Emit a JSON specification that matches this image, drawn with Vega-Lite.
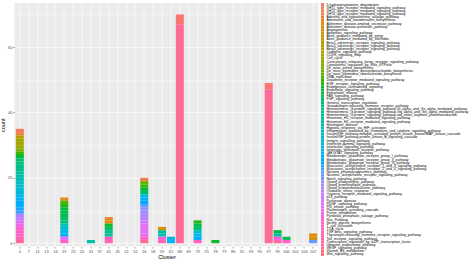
{
"$schema": "https://vega.github.io/schema/vega-lite/v6.json",
"padding": {"left": 0.5, "top": 2, "right": 0, "bottom": 0},
"background": "white",
"config": {"font": "Liberation Sans", "concat": {"spacing": 2.5}},
"resolve": {"scale": {"x": "independent", "y": "independent", "color": "independent"}},
"datasets": {
 "pathways": [
{"Pathway":"5-hydroxytryptamine_degredation"},{"Pathway":"5HT1_type_receptor_mediated_signaling_pathway"},{"Pathway":"5HT2_type_receptor_mediated_signaling_pathway"},{"Pathway":"5HT4_type_receptor_mediated_signaling_pathway"},{"Pathway":"Adenine_and_hypoxanthine_salvage_pathway"},{"Pathway":"Adrenaline_and_noradrenaline_biosynthesis"},{"Pathway":"Alzheimer_disease-amyloid_secretase_pathway"},{"Pathway":"Alzheimer_disease-presenilin_pathway"},{"Pathway":"Angiogenesis"},{"Pathway":"Apoptosis_signaling_pathway"},{"Pathway":"Axon_guidance_mediated_by_netrin"},{"Pathway":"Axon_guidance_mediated_by_Slit/Robo"},{"Pathway":"Beta1_adrenergic_receptor_signaling_pathway"},{"Pathway":"Beta2_adrenergic_receptor_signaling_pathway"},{"Pathway":"Beta3_adrenergic_receptor_signaling_pathway"},{"Pathway":"Cadherin_signaling_pathway"},{"Pathway":"CCKR_signaling_map"},{"Pathway":"Cell_cycle"},{"Pathway":"Corticotropin_releasing_factor_receptor_signaling_pathway"},{"Pathway":"Cytoskeletal_regulation_by_Rho_GTPase"},{"Pathway":"De_novo_purine_biosynthesis"},{"Pathway":"De_novo_pyrimidine_deoxyribonucleotide_biosynthesis"},{"Pathway":"De_novo_pyrimidine_ribonucleotide_biosythesis"},{"Pathway":"DNA_replication"},{"Pathway":"Dopamine_receptor_mediated_signaling_pathway"},{"Pathway":"EGF_receptor_signaling_pathway"},{"Pathway":"Endogenous_cannabinoid_signaling"},{"Pathway":"Endothelin_signaling_pathway"},{"Pathway":"Enkephalin_release"},{"Pathway":"FAS_signaling_pathway"},{"Pathway":"FGF_signaling_pathway"},{"Pathway":"General_transcription_regulation"},{"Pathway":"Gonadotropin-releasing_hormone_receptor_pathway"},{"Pathway":"Heterotrimeric_G-protein_signaling_pathway-Gi_alpha_and_Gs_alpha_mediated_pathway"},{"Pathway":"Heterotrimeric_G-protein_signaling_pathway-Gq_alpha_and_Go_alpha_mediated_pathway"},{"Pathway":"Heterotrimeric_G-protein_signaling_pathway-rod_outer_segment_phototransduction"},{"Pathway":"Histamine_H1_receptor_mediated_signaling_pathway"},{"Pathway":"Histamine_H2_receptor_mediated_signaling_pathway"},{"Pathway":"Huntington_disease"},{"Pathway":"Hypoxia_response_via_HIF_activation"},{"Pathway":"Inflammation_mediated_by_chemokine_and_cytokine_signaling_pathway"},{"Pathway":"Insulin/IGF_pathway-mitogen_activated_protein_kinase_kinase/MAP_kinase_cascade"},{"Pathway":"Insulin/IGF_pathway-protein_kinase_B_signaling_cascade"},{"Pathway":"Integrin_signalling_pathway"},{"Pathway":"Interferon-gamma_signaling_pathway"},{"Pathway":"Interleukin_signaling_pathway"},{"Pathway":"Ionotropic_glutamate_receptor_pathway"},{"Pathway":"JAK/STAT_signaling_pathway"},{"Pathway":"Metabotropic_glutamate_receptor_group_I_pathway"},{"Pathway":"Metabotropic_glutamate_receptor_group_II_pathway"},{"Pathway":"Metabotropic_glutamate_receptor_group_III_pathway"},{"Pathway":"Muscarinic_acetylcholine_receptor_1_and_3_signaling_pathway"},{"Pathway":"Muscarinic_acetylcholine_receptor_2_and_4_signaling_pathway"},{"Pathway":"Nicotine_pharmacodynamics_pathway"},{"Pathway":"Nicotinic_acetylcholine_receptor_signaling_pathway"},{"Pathway":"Notch_signaling_pathway"},{"Pathway":"Opioid_prodynorphin_pathway"},{"Pathway":"Opioid_proenkephalin_pathway"},{"Pathway":"Opioid_proopiomelanocortin_pathway"},{"Pathway":"Oxidative_stress_response"},{"Pathway":"Oxytocin_receptor_mediated_signaling_pathway"},{"Pathway":"p53_pathway"},{"Pathway":"Parkinson_disease"},{"Pathway":"PDGF_signaling_pathway"},{"Pathway":"PI3_kinase_pathway"},{"Pathway":"Plasminogen_activating_cascade"},{"Pathway":"Purine_metabolism"},{"Pathway":"Pyridoxal_phosphate_salvage_pathway"},{"Pathway":"Ras_Pathway"},{"Pathway":"Serine_glycine_biosynthesis"},{"Pathway":"T_cell_activation"},{"Pathway":"TCA_cycle"},{"Pathway":"TGF-beta_signaling_pathway"},{"Pathway":"Thyrotropin-releasing_hormone_receptor_signaling_pathway"},{"Pathway":"Toll_receptor_signaling_pathway"},{"Pathway":"Transcription_regulation_by_bZIP_transcription_factor"},{"Pathway":"Ubiquitin_proteasome_pathway"},{"Pathway":"VEGF_signaling_pathway"},{"Pathway":"Vitamin_B6_metabolism"},{"Pathway":"Wnt_signaling_pathway"}
 ],
 "counts": [
{"Cluster":"0","Pathway":"5HT1_type_receptor_mediated_signaling_pathway","count":1},
{"Cluster":"0","Pathway":"5HT4_type_receptor_mediated_signaling_pathway","count":1},
{"Cluster":"0","Pathway":"Beta2_adrenergic_receptor_signaling_pathway","count":1},
{"Cluster":"0","Pathway":"Cadherin_signaling_pathway","count":1},
{"Cluster":"0","Pathway":"CCKR_signaling_map","count":1},
{"Cluster":"0","Pathway":"Cell_cycle","count":1},
{"Cluster":"0","Pathway":"Cytoskeletal_regulation_by_Rho_GTPase","count":1},
{"Cluster":"0","Pathway":"Dopamine_receptor_mediated_signaling_pathway","count":1},
{"Cluster":"0","Pathway":"Endothelin_signaling_pathway","count":1},
{"Cluster":"0","Pathway":"General_transcription_regulation","count":1},
{"Cluster":"0","Pathway":"Gonadotropin-releasing_hormone_receptor_pathway","count":1},
{"Cluster":"0","Pathway":"Heterotrimeric_G-protein_signaling_pathway-Gi_alpha_and_Gs_alpha_mediated_pathway","count":1},
{"Cluster":"0","Pathway":"Heterotrimeric_G-protein_signaling_pathway-Gq_alpha_and_Go_alpha_mediated_pathway","count":1},
{"Cluster":"0","Pathway":"Heterotrimeric_G-protein_signaling_pathway-rod_outer_segment_phototransduction","count":1},
{"Cluster":"0","Pathway":"Histamine_H2_receptor_mediated_signaling_pathway","count":1},
{"Cluster":"0","Pathway":"Huntington_disease","count":1},
{"Cluster":"0","Pathway":"Inflammation_mediated_by_chemokine_and_cytokine_signaling_pathway","count":1},
{"Cluster":"0","Pathway":"Insulin/IGF_pathway-mitogen_activated_protein_kinase_kinase/MAP_kinase_cascade","count":1},
{"Cluster":"0","Pathway":"Integrin_signalling_pathway","count":1},
{"Cluster":"0","Pathway":"Interferon-gamma_signaling_pathway","count":1},
{"Cluster":"0","Pathway":"Ionotropic_glutamate_receptor_pathway","count":1},
{"Cluster":"0","Pathway":"JAK/STAT_signaling_pathway","count":1},
{"Cluster":"0","Pathway":"Metabotropic_glutamate_receptor_group_I_pathway","count":1},
{"Cluster":"0","Pathway":"Metabotropic_glutamate_receptor_group_II_pathway","count":1},
{"Cluster":"0","Pathway":"Muscarinic_acetylcholine_receptor_1_and_3_signaling_pathway","count":1},
{"Cluster":"0","Pathway":"Muscarinic_acetylcholine_receptor_2_and_4_signaling_pathway","count":1},
{"Cluster":"0","Pathway":"Opioid_proopiomelanocortin_pathway","count":1},
{"Cluster":"0","Pathway":"Oxytocin_receptor_mediated_signaling_pathway","count":1},
{"Cluster":"0","Pathway":"PDGF_signaling_pathway","count":1},
{"Cluster":"0","Pathway":"Purine_metabolism","count":1},
{"Cluster":"0","Pathway":"Ras_Pathway","count":1},
{"Cluster":"0","Pathway":"T_cell_activation","count":1},
{"Cluster":"0","Pathway":"TGF-beta_signaling_pathway","count":1},
{"Cluster":"0","Pathway":"Thyrotropin-releasing_hormone_receptor_signaling_pathway","count":1},
{"Cluster":"0","Pathway":"Transcription_regulation_by_bZIP_transcription_factor","count":1},
{"Cluster":"19","Pathway":"Adrenaline_and_noradrenaline_biosynthesis","count":1},
{"Cluster":"19","Pathway":"DNA_replication","count":1},
{"Cluster":"19","Pathway":"EGF_receptor_signaling_pathway","count":1},
{"Cluster":"19","Pathway":"Endothelin_signaling_pathway","count":1},
{"Cluster":"19","Pathway":"Enkephalin_release","count":1},
{"Cluster":"19","Pathway":"FAS_signaling_pathway","count":1},
{"Cluster":"19","Pathway":"FGF_signaling_pathway","count":1},
{"Cluster":"19","Pathway":"General_transcription_regulation","count":1},
{"Cluster":"19","Pathway":"Huntington_disease","count":1},
{"Cluster":"19","Pathway":"Insulin/IGF_pathway-protein_kinase_B_signaling_cascade","count":1},
{"Cluster":"19","Pathway":"Interleukin_signaling_pathway","count":1},
{"Cluster":"19","Pathway":"Metabotropic_glutamate_receptor_group_I_pathway","count":1},
{"Cluster":"19","Pathway":"PDGF_signaling_pathway","count":1},
{"Cluster":"19","Pathway":"T_cell_activation","count":1},
{"Cluster":"31","Pathway":"Histamine_H2_receptor_mediated_signaling_pathway","count":1},
{"Cluster":"41","Pathway":"Adenine_and_hypoxanthine_salvage_pathway","count":1},
{"Cluster":"41","Pathway":"Alzheimer_disease-amyloid_secretase_pathway","count":1},
{"Cluster":"41","Pathway":"Endogenous_cannabinoid_signaling","count":1},
{"Cluster":"41","Pathway":"FGF_signaling_pathway","count":1},
{"Cluster":"41","Pathway":"Heterotrimeric_G-protein_signaling_pathway-Gi_alpha_and_Gs_alpha_mediated_pathway","count":1},
{"Cluster":"41","Pathway":"Histamine_H1_receptor_mediated_signaling_pathway","count":1},
{"Cluster":"41","Pathway":"TGF-beta_signaling_pathway","count":1},
{"Cluster":"41","Pathway":"Toll_receptor_signaling_pathway","count":1},
{"Cluster":"56","Pathway":"5HT2_type_receptor_mediated_signaling_pathway","count":1},
{"Cluster":"56","Pathway":"De_novo_pyrimidine_deoxyribonucleotide_biosynthesis","count":1},
{"Cluster":"56","Pathway":"Dopamine_receptor_mediated_signaling_pathway","count":1},
{"Cluster":"56","Pathway":"Endothelin_signaling_pathway","count":1},
{"Cluster":"56","Pathway":"FAS_signaling_pathway","count":1},
{"Cluster":"56","Pathway":"Interferon-gamma_signaling_pathway","count":1},
{"Cluster":"56","Pathway":"JAK/STAT_signaling_pathway","count":1},
{"Cluster":"56","Pathway":"Metabotropic_glutamate_receptor_group_III_pathway","count":1},
{"Cluster":"56","Pathway":"Nicotine_pharmacodynamics_pathway","count":1},
{"Cluster":"56","Pathway":"Opioid_prodynorphin_pathway","count":1},
{"Cluster":"56","Pathway":"Opioid_proenkephalin_pathway","count":1},
{"Cluster":"56","Pathway":"Opioid_proopiomelanocortin_pathway","count":1},
{"Cluster":"56","Pathway":"Oxidative_stress_response","count":1},
{"Cluster":"56","Pathway":"Oxytocin_receptor_mediated_signaling_pathway","count":1},
{"Cluster":"56","Pathway":"Parkinson_disease","count":1},
{"Cluster":"56","Pathway":"PDGF_signaling_pathway","count":1},
{"Cluster":"56","Pathway":"PI3_kinase_pathway","count":1},
{"Cluster":"56","Pathway":"Plasminogen_activating_cascade","count":1},
{"Cluster":"56","Pathway":"TCA_cycle","count":1},
{"Cluster":"56","Pathway":"Ubiquitin_proteasome_pathway","count":1},
{"Cluster":"59","Pathway":"Alzheimer_disease-presenilin_pathway","count":1},
{"Cluster":"59","Pathway":"Heterotrimeric_G-protein_signaling_pathway-Gq_alpha_and_Go_alpha_mediated_pathway","count":1},
{"Cluster":"59","Pathway":"Hypoxia_response_via_HIF_activation","count":1},
{"Cluster":"59","Pathway":"Serine_glycine_biosynthesis","count":1},
{"Cluster":"59","Pathway":"Thyrotropin-releasing_hormone_receptor_signaling_pathway","count":1},
{"Cluster":"62","Pathway":"Interleukin_signaling_pathway","count":1},
{"Cluster":"62","Pathway":"JAK/STAT_signaling_pathway","count":1},
{"Cluster":"68","Pathway":"5-hydroxytryptamine_degredation","count":3},
{"Cluster":"68","Pathway":"Ubiquitin_proteasome_pathway","count":67},
{"Cluster":"73","Pathway":"EGF_receptor_signaling_pathway","count":1},
{"Cluster":"73","Pathway":"Enkephalin_release","count":1},
{"Cluster":"73","Pathway":"FGF_signaling_pathway","count":1},
{"Cluster":"73","Pathway":"Inflammation_mediated_by_chemokine_and_cytokine_signaling_pathway","count":1},
{"Cluster":"73","Pathway":"Ionotropic_glutamate_receptor_pathway","count":1},
{"Cluster":"73","Pathway":"Metabotropic_glutamate_receptor_group_II_pathway","count":1},
{"Cluster":"73","Pathway":"TCA_cycle","count":1},
{"Cluster":"78","Pathway":"Endogenous_cannabinoid_signaling","count":1},
{"Cluster":"97","Pathway":"5-hydroxytryptamine_degredation","count":2},
{"Cluster":"97","Pathway":"Ubiquitin_proteasome_pathway","count":47},
{"Cluster":"99","Pathway":"Endothelin_signaling_pathway","count":1},
{"Cluster":"99","Pathway":"Histamine_H1_receptor_mediated_signaling_pathway","count":1},
{"Cluster":"99","Pathway":"Ras_Pathway","count":1},
{"Cluster":"99","Pathway":"Toll_receptor_signaling_pathway","count":1},
{"Cluster":"100","Pathway":"FAS_signaling_pathway","count":1},
{"Cluster":"100","Pathway":"T_cell_activation","count":1},
{"Cluster":"107","Pathway":"Alzheimer_disease-amyloid_secretase_pathway","count":1},
{"Cluster":"107","Pathway":"Apoptosis_signaling_pathway","count":1},
{"Cluster":"107","Pathway":"Nicotinic_acetylcholine_receptor_signaling_pathway","count":1}
 ]
},
"hconcat": [
{
 "width": 304, "height": 243.5,
 "view": {"fill": "#EBEBEB", "stroke": null},
 "data": {"name": "counts"},
 "mark": {"type": "bar"},
 "encoding": {
  "x": {"field": "Cluster", "type": "nominal",
   "scale": {"domain": ["0","7","11","13","16","19","23","24","31","37","41","45","51","52","56","58","59","62","68","69","73","75","78","79","86","92","93","95","97","99","100","102","106","107"], "paddingInner": 0.1, "paddingOuter": 0.15},
   "axis": {"title": "Cluster", "titleFontSize": 5.5, "titleFontWeight": "normal", "titleColor": "black", "titlePadding": 1.5,
    "labelFontSize": 4, "labelColor": "#4D4D4D", "labelAngle": 0, "labelPadding": 1, "domain": false,
    "ticks": true, "tickSize": 1.5, "tickWidth": 0.5, "tickColor": "#333333", "bandPosition": 0.5,
    "grid": true, "gridColor": "white", "gridWidth": 0.6}},
  "y": {"field": "count", "type": "quantitative", "stack": "zero",
   "scale": {"domain": [-1, 73.5], "nice": false, "zero": false},
   "axis": {"title": "count", "titleFontSize": 5.5, "titleFontWeight": "normal", "titleColor": "black", "titlePadding": 2,
    "values": [0,10,20,30,40,50,60,70],
    "labelExpr": "datum.value % 20 === 0 ? datum.label : ''",
    "labelFontSize": 4, "labelColor": "#4D4D4D", "labelPadding": 1, "domain": false,
    "tickSize": 1.5, "tickWidth": 0.5, "tickColor": "#333333",
    "tickOpacity": {"condition": {"test": "datum.value % 20 === 0", "value": 1}, "value": 0},
    "grid": true, "gridColor": "white",
    "gridWidth": {"condition": {"test": "datum.value % 20 === 0", "value": 0.6}, "value": 0.3}}},
  "color": {"field": "Pathway", "type": "nominal", "legend": null,
   "scale": {
    "domain": ["5-hydroxytryptamine_degredation","5HT1_type_receptor_mediated_signaling_pathway","5HT2_type_receptor_mediated_signaling_pathway","5HT4_type_receptor_mediated_signaling_pathway","Adenine_and_hypoxanthine_salvage_pathway","Adrenaline_and_noradrenaline_biosynthesis","Alzheimer_disease-amyloid_secretase_pathway","Alzheimer_disease-presenilin_pathway","Angiogenesis","Apoptosis_signaling_pathway","Axon_guidance_mediated_by_netrin","Axon_guidance_mediated_by_Slit/Robo","Beta1_adrenergic_receptor_signaling_pathway","Beta2_adrenergic_receptor_signaling_pathway","Beta3_adrenergic_receptor_signaling_pathway","Cadherin_signaling_pathway","CCKR_signaling_map","Cell_cycle","Corticotropin_releasing_factor_receptor_signaling_pathway","Cytoskeletal_regulation_by_Rho_GTPase","De_novo_purine_biosynthesis","De_novo_pyrimidine_deoxyribonucleotide_biosynthesis","De_novo_pyrimidine_ribonucleotide_biosythesis","DNA_replication","Dopamine_receptor_mediated_signaling_pathway","EGF_receptor_signaling_pathway","Endogenous_cannabinoid_signaling","Endothelin_signaling_pathway","Enkephalin_release","FAS_signaling_pathway","FGF_signaling_pathway","General_transcription_regulation","Gonadotropin-releasing_hormone_receptor_pathway","Heterotrimeric_G-protein_signaling_pathway-Gi_alpha_and_Gs_alpha_mediated_pathway","Heterotrimeric_G-protein_signaling_pathway-Gq_alpha_and_Go_alpha_mediated_pathway","Heterotrimeric_G-protein_signaling_pathway-rod_outer_segment_phototransduction","Histamine_H1_receptor_mediated_signaling_pathway","Histamine_H2_receptor_mediated_signaling_pathway","Huntington_disease","Hypoxia_response_via_HIF_activation","Inflammation_mediated_by_chemokine_and_cytokine_signaling_pathway","Insulin/IGF_pathway-mitogen_activated_protein_kinase_kinase/MAP_kinase_cascade","Insulin/IGF_pathway-protein_kinase_B_signaling_cascade","Integrin_signalling_pathway","Interferon-gamma_signaling_pathway","Interleukin_signaling_pathway","Ionotropic_glutamate_receptor_pathway","JAK/STAT_signaling_pathway","Metabotropic_glutamate_receptor_group_I_pathway","Metabotropic_glutamate_receptor_group_II_pathway","Metabotropic_glutamate_receptor_group_III_pathway","Muscarinic_acetylcholine_receptor_1_and_3_signaling_pathway","Muscarinic_acetylcholine_receptor_2_and_4_signaling_pathway","Nicotine_pharmacodynamics_pathway","Nicotinic_acetylcholine_receptor_signaling_pathway","Notch_signaling_pathway","Opioid_prodynorphin_pathway","Opioid_proenkephalin_pathway","Opioid_proopiomelanocortin_pathway","Oxidative_stress_response","Oxytocin_receptor_mediated_signaling_pathway","p53_pathway","Parkinson_disease","PDGF_signaling_pathway","PI3_kinase_pathway","Plasminogen_activating_cascade","Purine_metabolism","Pyridoxal_phosphate_salvage_pathway","Ras_Pathway","Serine_glycine_biosynthesis","T_cell_activation","TCA_cycle","TGF-beta_signaling_pathway","Thyrotropin-releasing_hormone_receptor_signaling_pathway","Toll_receptor_signaling_pathway","Transcription_regulation_by_bZIP_transcription_factor","Ubiquitin_proteasome_pathway","VEGF_signaling_pathway","Vitamin_B6_metabolism","Wnt_signaling_pathway"],
    "range": ["#F8766D","#F5795F","#F17D51","#EE8043","#EA8332","#E6871F","#E18A0C","#DD8D00","#D89000","#D39300","#CD9600","#C69900","#C09B00","#B99E00","#B2A100","#ABA300","#A3A500","#99A700","#90AA00","#86AC00","#7CAE00","#6BB000","#5BB200","#4AB400","#39B600","#24B815","#0EB92A","#00BA3D","#00BC4B","#00BD59","#00BE67","#00BF72","#00BF7D","#00C088","#00C091","#00C099","#00C0A2","#00BFAA","#00BFB3","#00BFBB","#00BFC4","#00BDCB","#00BCD1","#00BAD8","#00B8DE","#00B7E5","#00B5EC","#00B3F2","#00B0F6","#00ADFB","#00A9FF","#1DA5FF","#3AA1FF","#579DFF","#6E99FF","#8295FF","#9590FF","#A28BFF","#AE86FF","#BB81FF","#C77CFF","#CF78FC","#D774F9","#DF6FF6","#E76BF3","#EC68ED","#F266E7","#F664E1","#F963DA","#FC62D3","#FF61CC","#FF62C4","#FF62BC","#FF64B3","#FF66AA","#FF68A1","#FF6A97","#FE6D8D","#FC7083","#FA7278"]}},
  "order": {"field": "Pathway", "sort": "descending"}
 }
},
{
 "width": 3, "height": 253,
 "view": {"stroke": null},
 "data": {"name": "pathways"},
 "encoding": {
  "y": {"field": "Pathway", "type": "nominal", "axis": null,
   "scale": {"paddingInner": 0, "paddingOuter": 0,
    "domain": ["5-hydroxytryptamine_degredation","5HT1_type_receptor_mediated_signaling_pathway","5HT2_type_receptor_mediated_signaling_pathway","5HT4_type_receptor_mediated_signaling_pathway","Adenine_and_hypoxanthine_salvage_pathway","Adrenaline_and_noradrenaline_biosynthesis","Alzheimer_disease-amyloid_secretase_pathway","Alzheimer_disease-presenilin_pathway","Angiogenesis","Apoptosis_signaling_pathway","Axon_guidance_mediated_by_netrin","Axon_guidance_mediated_by_Slit/Robo","Beta1_adrenergic_receptor_signaling_pathway","Beta2_adrenergic_receptor_signaling_pathway","Beta3_adrenergic_receptor_signaling_pathway","Cadherin_signaling_pathway","CCKR_signaling_map","Cell_cycle","Corticotropin_releasing_factor_receptor_signaling_pathway","Cytoskeletal_regulation_by_Rho_GTPase","De_novo_purine_biosynthesis","De_novo_pyrimidine_deoxyribonucleotide_biosynthesis","De_novo_pyrimidine_ribonucleotide_biosythesis","DNA_replication","Dopamine_receptor_mediated_signaling_pathway","EGF_receptor_signaling_pathway","Endogenous_cannabinoid_signaling","Endothelin_signaling_pathway","Enkephalin_release","FAS_signaling_pathway","FGF_signaling_pathway","General_transcription_regulation","Gonadotropin-releasing_hormone_receptor_pathway","Heterotrimeric_G-protein_signaling_pathway-Gi_alpha_and_Gs_alpha_mediated_pathway","Heterotrimeric_G-protein_signaling_pathway-Gq_alpha_and_Go_alpha_mediated_pathway","Heterotrimeric_G-protein_signaling_pathway-rod_outer_segment_phototransduction","Histamine_H1_receptor_mediated_signaling_pathway","Histamine_H2_receptor_mediated_signaling_pathway","Huntington_disease","Hypoxia_response_via_HIF_activation","Inflammation_mediated_by_chemokine_and_cytokine_signaling_pathway","Insulin/IGF_pathway-mitogen_activated_protein_kinase_kinase/MAP_kinase_cascade","Insulin/IGF_pathway-protein_kinase_B_signaling_cascade","Integrin_signalling_pathway","Interferon-gamma_signaling_pathway","Interleukin_signaling_pathway","Ionotropic_glutamate_receptor_pathway","JAK/STAT_signaling_pathway","Metabotropic_glutamate_receptor_group_I_pathway","Metabotropic_glutamate_receptor_group_II_pathway","Metabotropic_glutamate_receptor_group_III_pathway","Muscarinic_acetylcholine_receptor_1_and_3_signaling_pathway","Muscarinic_acetylcholine_receptor_2_and_4_signaling_pathway","Nicotine_pharmacodynamics_pathway","Nicotinic_acetylcholine_receptor_signaling_pathway","Notch_signaling_pathway","Opioid_prodynorphin_pathway","Opioid_proenkephalin_pathway","Opioid_proopiomelanocortin_pathway","Oxidative_stress_response","Oxytocin_receptor_mediated_signaling_pathway","p53_pathway","Parkinson_disease","PDGF_signaling_pathway","PI3_kinase_pathway","Plasminogen_activating_cascade","Purine_metabolism","Pyridoxal_phosphate_salvage_pathway","Ras_Pathway","Serine_glycine_biosynthesis","T_cell_activation","TCA_cycle","TGF-beta_signaling_pathway","Thyrotropin-releasing_hormone_receptor_signaling_pathway","Toll_receptor_signaling_pathway","Transcription_regulation_by_bZIP_transcription_factor","Ubiquitin_proteasome_pathway","VEGF_signaling_pathway","Vitamin_B6_metabolism","Wnt_signaling_pathway"]}}
 },
 "layer": [
  {"mark": {"type": "square", "size": 9, "opacity": 1, "strokeWidth": 0},
   "encoding": {"color": {"field": "Pathway", "type": "nominal", "legend": null,
    "scale": {
     "domain": ["5-hydroxytryptamine_degredation","5HT1_type_receptor_mediated_signaling_pathway","5HT2_type_receptor_mediated_signaling_pathway","5HT4_type_receptor_mediated_signaling_pathway","Adenine_and_hypoxanthine_salvage_pathway","Adrenaline_and_noradrenaline_biosynthesis","Alzheimer_disease-amyloid_secretase_pathway","Alzheimer_disease-presenilin_pathway","Angiogenesis","Apoptosis_signaling_pathway","Axon_guidance_mediated_by_netrin","Axon_guidance_mediated_by_Slit/Robo","Beta1_adrenergic_receptor_signaling_pathway","Beta2_adrenergic_receptor_signaling_pathway","Beta3_adrenergic_receptor_signaling_pathway","Cadherin_signaling_pathway","CCKR_signaling_map","Cell_cycle","Corticotropin_releasing_factor_receptor_signaling_pathway","Cytoskeletal_regulation_by_Rho_GTPase","De_novo_purine_biosynthesis","De_novo_pyrimidine_deoxyribonucleotide_biosynthesis","De_novo_pyrimidine_ribonucleotide_biosythesis","DNA_replication","Dopamine_receptor_mediated_signaling_pathway","EGF_receptor_signaling_pathway","Endogenous_cannabinoid_signaling","Endothelin_signaling_pathway","Enkephalin_release","FAS_signaling_pathway","FGF_signaling_pathway","General_transcription_regulation","Gonadotropin-releasing_hormone_receptor_pathway","Heterotrimeric_G-protein_signaling_pathway-Gi_alpha_and_Gs_alpha_mediated_pathway","Heterotrimeric_G-protein_signaling_pathway-Gq_alpha_and_Go_alpha_mediated_pathway","Heterotrimeric_G-protein_signaling_pathway-rod_outer_segment_phototransduction","Histamine_H1_receptor_mediated_signaling_pathway","Histamine_H2_receptor_mediated_signaling_pathway","Huntington_disease","Hypoxia_response_via_HIF_activation","Inflammation_mediated_by_chemokine_and_cytokine_signaling_pathway","Insulin/IGF_pathway-mitogen_activated_protein_kinase_kinase/MAP_kinase_cascade","Insulin/IGF_pathway-protein_kinase_B_signaling_cascade","Integrin_signalling_pathway","Interferon-gamma_signaling_pathway","Interleukin_signaling_pathway","Ionotropic_glutamate_receptor_pathway","JAK/STAT_signaling_pathway","Metabotropic_glutamate_receptor_group_I_pathway","Metabotropic_glutamate_receptor_group_II_pathway","Metabotropic_glutamate_receptor_group_III_pathway","Muscarinic_acetylcholine_receptor_1_and_3_signaling_pathway","Muscarinic_acetylcholine_receptor_2_and_4_signaling_pathway","Nicotine_pharmacodynamics_pathway","Nicotinic_acetylcholine_receptor_signaling_pathway","Notch_signaling_pathway","Opioid_prodynorphin_pathway","Opioid_proenkephalin_pathway","Opioid_proopiomelanocortin_pathway","Oxidative_stress_response","Oxytocin_receptor_mediated_signaling_pathway","p53_pathway","Parkinson_disease","PDGF_signaling_pathway","PI3_kinase_pathway","Plasminogen_activating_cascade","Purine_metabolism","Pyridoxal_phosphate_salvage_pathway","Ras_Pathway","Serine_glycine_biosynthesis","T_cell_activation","TCA_cycle","TGF-beta_signaling_pathway","Thyrotropin-releasing_hormone_receptor_signaling_pathway","Toll_receptor_signaling_pathway","Transcription_regulation_by_bZIP_transcription_factor","Ubiquitin_proteasome_pathway","VEGF_signaling_pathway","Vitamin_B6_metabolism","Wnt_signaling_pathway"],
     "range": ["#F8766D","#F5795F","#F17D51","#EE8043","#EA8332","#E6871F","#E18A0C","#DD8D00","#D89000","#D39300","#CD9600","#C69900","#C09B00","#B99E00","#B2A100","#ABA300","#A3A500","#99A700","#90AA00","#86AC00","#7CAE00","#6BB000","#5BB200","#4AB400","#39B600","#24B815","#0EB92A","#00BA3D","#00BC4B","#00BD59","#00BE67","#00BF72","#00BF7D","#00C088","#00C091","#00C099","#00C0A2","#00BFAA","#00BFB3","#00BFBB","#00BFC4","#00BDCB","#00BCD1","#00BAD8","#00B8DE","#00B7E5","#00B5EC","#00B3F2","#00B0F6","#00ADFB","#00A9FF","#1DA5FF","#3AA1FF","#579DFF","#6E99FF","#8295FF","#9590FF","#A28BFF","#AE86FF","#BB81FF","#C77CFF","#CF78FC","#D774F9","#DF6FF6","#E76BF3","#EC68ED","#F266E7","#F664E1","#F963DA","#FC62D3","#FF61CC","#FF62C4","#FF62BC","#FF64B3","#FF66AA","#FF68A1","#FF6A97","#FE6D8D","#FC7083","#FA7278"]}}}},
  {"mark": {"type": "text", "align": "left", "baseline": "middle", "fontSize": 3.5, "dx": 4, "color": "black"},
   "encoding": {"text": {"field": "Pathway", "type": "nominal"}}}
 ]
}
]
}
